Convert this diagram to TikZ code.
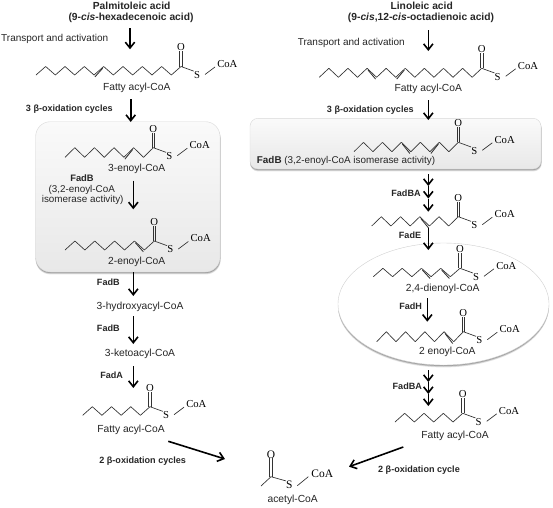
\documentclass[tikz,border=0pt]{standalone}
\usepackage{fontspec}
\setmainfont{Liberation Sans}
\newfontfamily\chemfont{Liberation Serif}
\usetikzlibrary{arrows.meta,calc}
\pgfdeclareradialshading{ellshade}{\pgfpoint{0bp}{0bp}}{color(0bp)=(white); color(32bp)=(white); color(50bp)=(black!20); color(100bp)=(black!20)}
\tikzset{
  lab/.style={inner sep=0pt,text=black!85,font=\fontsize{7.7pt}{9pt}\selectfont},
  blab/.style={lab,font=\fontsize{6.8pt}{8pt}\selectfont\bfseries},
  toplab/.style={lab,font=\fontsize{7.7pt}{9pt}\selectfont\bfseries},
  atom/.style={inner sep=0pt,font=\fontsize{8pt}{9pt}\selectfont\chemfont},
  bond/.style={line width=0.5pt,black!80},
  flow/.style={line width=1.2pt,black,-{Straight Barb[length=4.4pt,width=7pt,line width=1.2pt]}},
}
% \acyl{name}{x0}{ylow}{xC}{yC}{bonds}{double-bond list}
\newcommand{\acyl}[7]{%
  \pgfmathsetmacro{\stepx}{(#4-#2)/#6}
  \pgfmathsetmacro{\stepy}{#3-#5}
  \foreach \i in {1,...,#6}{%
    \pgfmathsetmacro{\xa}{#2+(\i-1)*\stepx}
    \pgfmathsetmacro{\xb}{#2+\i*\stepx}
    \pgfmathsetmacro{\ya}{#3-mod(\i-1,2)*\stepy}
    \pgfmathsetmacro{\yb}{#3-mod(\i,2)*\stepy}
    \draw[bond] (\xa,\ya) -- (\xb,\yb);
  }
  \foreach \i in {#7}{%
    \pgfmathsetmacro{\xa}{#2+(\i-1)*\stepx+1}
    \pgfmathsetmacro{\xb}{#2+\i*\stepx-1}
    \pgfmathsetmacro{\ya}{#3-mod(\i-1,2)*\stepy+1.8}
    \pgfmathsetmacro{\yb}{#3-mod(\i,2)*\stepy+1.8}
    \draw[bond,line width=0.65pt] (\xa,\ya) -- (\xb,\yb);
  }
  \node[atom] (#1O) at (#4,#5-19) {O};
  \node[atom] (#1S) at (#4+16,#5+8.5) {S};
  \node[atom,anchor=west] (#1R) at (#4+36,#5-2.5) {CoA};
  \coordinate (#1C) at (#4,#5);
  \draw[bond,line width=0.6pt] ([xshift=-1pt]#1C) -- ([xshift=-1pt]#1O.south);
  \draw[bond,line width=0.6pt] ([xshift=1pt]#1C) -- ([xshift=1pt]#1O.south);
  \draw[bond] (#1C) -- (#1S.north west);
  \draw[bond] ($(#1C)+(24,8)$) -- ($(#1C)+(34,0.5)$);
}
\newcommand{\flowarrow}[6]{%
  \coordinate (#1a) at (#3,#4);
  \coordinate (#1b) at (#5,#6);
  \draw[#2] (#1a) -- (#1b);
}
\begin{document}
\begin{tikzpicture}[x=0.75pt,y=-0.75pt]
\useasboundingbox (0,0) rectangle (553,507);
\fill[white] (0,0) rectangle (553,507);
% left grey box
\foreach \o/\op in {2.4/0.10,1.7/0.14,1/0.18}{
  \fill[black,opacity=\op,rounded corners=11pt] (35.7,122+\o) rectangle (220+\o*0.3,272+\o);
}
\shade[top color=white!98!black,bottom color=white!91!black,draw=white!85!black,line width=0.3pt,rounded corners=11pt] (35.7,121.7) rectangle (220,272);
% right grey box
\foreach \o/\op in {2.4/0.10,1.7/0.14,1/0.18}{
  \fill[black,opacity=\op,rounded corners=6pt] (250,118.3+\o) rectangle (541+\o*0.3,169+\o);
}
\shade[top color=white!98!black,bottom color=white!91!black,draw=white!85!black,line width=0.3pt,rounded corners=6pt] (250,118.3) rectangle (541,169);
% ellipse
\foreach \o/\op in {2.4/0.10,1.7/0.14,1/0.18}{
  \fill[black,opacity=\op] (443.5,304+\o) ellipse [x radius=105.5,y radius=61];
}
\shade[shading=ellshade] (443.5,304) ellipse [x radius=105.5,y radius=61];
\draw[black!18,line width=0.3pt] (443.5,304) ellipse [x radius=105.5,y radius=61];

% left column texts
\node[toplab] (pal) at (131.7,5.7) {Palmitoleic acid};
\node[toplab] (palb) at (131,18.3) {(9-\textit{cis}-hexadecenoic acid)};
\node[lab,font=\fontsize{7.5pt}{9pt}\selectfont] (tr1) at (54.7,39) {Transport and activation};
\acyl{a}{36}{75}{181}{66.5}{15}{7}
\node[lab] (fa1) at (136.7,88.3) {Fatty acyl-CoA};
\node[blab] (ox1) at (69.3,109) {3 β-oxidation cycles};
\acyl{b}{65}{157.3}{153.3}{147.7}{9}{7}
\node[lab] (en3) at (136.7,169.3) {3-enoyl-CoA};
\node[blab,font=\fontsize{7pt}{8pt}\selectfont\bfseries] (fb1) at (82,178.3) {FadB};
\node[lab,font=\fontsize{7.4pt}{9pt}\selectfont] (fb1a) at (81.7,190) {(3,2-enoyl-CoA};
\node[lab,font=\fontsize{7.4pt}{9pt}\selectfont] (fb1b) at (82.7,200.3) {isomerase activity)};
\acyl{c}{65}{250}{154.3}{241}{9}{8}
\node[lab] (en2) at (136.7,262) {2-enoyl-CoA};
\node[blab] (fb2) at (108.3,282.7) {FadB};
\node[lab] (hy) at (140,307) {3-hydroxyacyl-CoA};
\node[blab] (fb3) at (108.3,328) {FadB};
\node[lab] (ke) at (140,354.3) {3-ketoacyl-CoA};
\node[blab] (fa) at (111.7,375.3) {FadA};
\acyl{d}{82.7}{415.3}{150}{406.7}{7}{}
\node[lab] (fa2) at (131,429.7) {Fatty acyl-CoA};
\node[blab] (ox2) at (142.7,461) {2 β-oxidation cycles};

% right column texts
\node[toplab] (lin) at (421.7,5.7) {Linoleic acid};
\node[toplab] (linb) at (421,18.3) {(9-\textit{cis},12-\textit{cis}-octadienoic acid)};
\node[lab,font=\fontsize{7.5pt}{9pt}\selectfont] (tr2) at (351.3,43.3) {Transport and activation};
\acyl{e}{319.3}{77.3}{481.7}{68.3}{17}{6,9}
\node[lab] (fa3) at (428.3,89) {Fatty acyl-CoA};
\node[blab] (ox3) at (370.3,110) {3 β-oxidation cycles};
\acyl{f}{354}{151.7}{458.3}{142.3}{11}{6,9}
\node[lab,anchor=west,font=\fontsize{7.4pt}{9pt}\selectfont] (fb4) at (256.7,160.7) {\textbf{FadB} (3,2-enoyl-CoA isomerase activity)};
\node[blab] (fba1) at (406,193.3) {FadBA};
\acyl{g}{371.7}{226}{458.3}{216.7}{9}{6}
\node[blab] (fe) at (410,235.7) {FadE};
\acyl{h}{373.3}{276.7}{460}{268.3}{9}{6,8}
\node[lab] (dien) at (442.7,288.7) {2,4-dienoyl-CoA};
\node[blab] (fh) at (410.7,306) {FadH};
\acyl{i}{376.7}{341.7}{463.3}{331.7}{9}{8}
\node[lab] (en2r) at (447.3,351.7) {2 enoyl-CoA};
\node[blab] (fba2) at (407.3,386.7) {FadBA};
\acyl{j}{395}{422}{462.7}{413.3}{7}{}
\node[lab] (fa4) at (455,435.7) {Fatty acyl-CoA};
\node[blab] (ox4) at (419,469.7) {2 β-oxidation cycle};

% acetyl-CoA
\coordinate (kC) at (271,476.7);
\node[atom,font=\fontsize{8.6pt}{9pt}\selectfont\chemfont] (kO) at (271,454.3) {O};
\node[atom,font=\fontsize{8.6pt}{9pt}\selectfont\chemfont] (kS) at (289.3,485) {S};
\node[atom,font=\fontsize{8.6pt}{9pt}\selectfont\chemfont] (kR) at (322.3,473.3) {CoA};
\coordinate (kM) at (261,486);
\draw[bond] (kM) -- (kC) -- (kS.north west);
\draw[bond,line width=0.6pt] ([xshift=-1pt]kC) -- ([xshift=-1pt]kO.south);
\draw[bond,line width=0.6pt] ([xshift=1pt]kC) -- ([xshift=1pt]kO.south);
\coordinate (kL1) at (297.3,485.7);
\coordinate (kL2) at (308.3,476.7);
\draw[bond] (kL1) -- (kL2);
\node[lab] (ace) at (292.7,500) {acetyl-CoA};

% arrows
\flowarrow{p1}{flow}{130}{28}{130}{49.3}
\flowarrow{p2}{flow}{130.7}{99.3}{130.7}{122}
\flowarrow{p3}{flow}{133.3}{180.7}{133.3}{209.3}
\flowarrow{p4}{flow}{133.3}{272}{133.3}{296}
\flowarrow{p5}{flow}{133.3}{316}{133.3}{344}
\flowarrow{p6}{flow}{133.3}{366}{133.3}{388}
\flowarrow{p7}{flow}{168.3}{441.3}{225}{459}
\flowarrow{r1}{flow}{428.3}{30}{428.3}{51}
\flowarrow{r2}{flow}{428.3}{100}{428.3}{120}
\flowarrow{r3}{flow}{428.3}{174}{428.3}{186}
\flowarrow{r4}{flow}{428.3}{186}{428.3}{198.5}
\flowarrow{r5}{flow}{428.3}{198.5}{428.3}{211.7}
\flowarrow{r6}{flow}{428.3}{228}{428.3}{250}
\flowarrow{r7}{flow}{427.3}{298.3}{427.3}{321.7}
\flowarrow{r8}{flow}{428.3}{370}{428.3}{382}
\flowarrow{r9}{flow}{428.3}{382}{428.3}{394}
\flowarrow{r10}{flow}{428.3}{394}{428.3}{406}
\flowarrow{r11}{flow}{403.3}{447}{349}{466.7}
\end{tikzpicture}
\end{document}
